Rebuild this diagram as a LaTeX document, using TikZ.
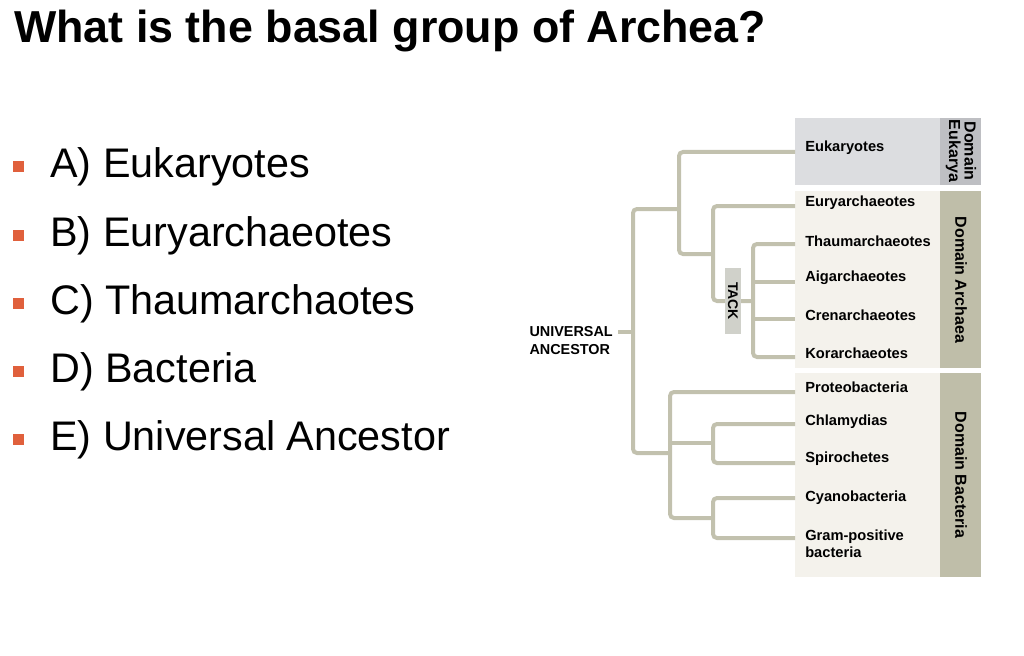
\documentclass[tikz,border=0pt]{standalone}
\usepackage{fontspec}
\setmainfont{Liberation Sans}
\begin{document}
\begin{tikzpicture}[x=0.75pt,y=-0.75pt,
 br/.style={draw=lineC,line width=3pt,rounded corners=3pt},
 leaf/.style={anchor=west,font=\bfseries\fontsize{11}{12.5}\selectfont,inner sep=0pt},
 bul/.style={anchor=west,font=\fontsize{31}{34}\selectfont,inner sep=0pt},
 dom/.style={rotate=-90,font=\bfseries\fontsize{12}{11.5}\selectfont,align=center,inner sep=0pt}]
\definecolor{lineC}{HTML}{C2C1AE}
\definecolor{eukbg}{HTML}{DCDDE0}
\definecolor{eukst}{HTML}{BEBFC3}
\definecolor{arcbg}{HTML}{F4F2EC}
\definecolor{arcst}{HTML}{BFBEA9}
\definecolor{bulC}{HTML}{E0603C}
\useasboundingbox (0,0) rectangle (1024,656);
\node[anchor=west,font=\bfseries\fontsize{33.6}{36}\selectfont,inner sep=0pt] (title) at (14,31) {What is the basal group of Archea?};
\foreach \y/\t [count=\i] in {167/A) Eukaryotes,236/B) Euryarchaeotes,304/C) Thaumarchaotes,372/D) Bacteria,440/E) Universal Ancestor}{
 \fill[bulC] (13,\y-6) rectangle (24,\y+5);
 \node[bul] (b\i) at (50,\y) {\t};}
% boxes
\fill[eukbg] (795,118) rectangle (940,185);
\fill[eukst] (940,118) rectangle (981,185);
\fill[arcbg] (795,191) rectangle (940,368);
\fill[arcst] (940,191) rectangle (981,368);
\fill[arcbg] (795,373) rectangle (940,577);
\fill[arcst] (940,373) rectangle (981,577);
\node[dom] (de) at (961,151) {Domain\\Eukarya};
\node[dom] (da) at (961,280) {Domain Archaea};
\node[dom] (db) at (961,475) {Domain Bacteria};
% leaves
\coordinate (le) at (795,152);
\coordinate (l1) at (795,206); \coordinate (l2) at (795,244); \coordinate (l3) at (795,282);
\coordinate (l4) at (795,319); \coordinate (l5) at (795,357);
\coordinate (l6) at (795,392); \coordinate (l7) at (795,424); \coordinate (l8) at (795,463);
\coordinate (l9) at (795,498); \coordinate (l10) at (795,538);
\node[leaf] at (805,148) {Eukaryotes};
\node[leaf] at (805,203) {Euryarchaeotes};
\node[leaf] at (805,241) {Thaumarchaeotes};
\node[leaf] at (805,278) {Aigarchaeotes};
\node[leaf] at (805,315) {Crenarchaeotes};
\node[leaf] at (805,353) {Korarchaeotes};
\node[leaf] at (805,387) {Proteobacteria};
\node[leaf] at (805,422) {Chlamydias};
\node[leaf] at (805,459) {Spirochetes};
\node[leaf] at (805,498) {Cyanobacteria};
\node[leaf,align=left] at (805,544) {Gram-positive\\bacteria};
% tree
\node[anchor=east,align=left,font=\bfseries\fontsize{10.8}{13.5}\selectfont,inner sep=0pt] (ua) at (613,341) {UNIVERSAL\\ANCESTOR};
\draw[br] (618,332) -- (633,332);
\draw[br] (679,209) -| (633,453) -- (670,453);
\draw[br] (le) -| (679,254) -- (713,254);
\draw[br] (l1) -| (713,301) -- (753,301);
\draw[br] (l2) -| (753,357) -- (l5);
\draw[br] (753,282) -- (l3); \draw[br] (753,319) -- (l4);
\node[fill=eukbg!60!arcst,rotate=-90,font=\bfseries\fontsize{10.5}{11}\selectfont,inner sep=2pt,minimum width=50] (tack) at (733,301) {TACK};
\draw[br] (l6) -| (670,518) -- (713,518);
\draw[br] (l7) -| (713,463) -- (l8); \draw[br] (670,443) -- (713,443);
\draw[br] (l9) -| (713,538) -- (l10);
\end{tikzpicture}
\end{document}
